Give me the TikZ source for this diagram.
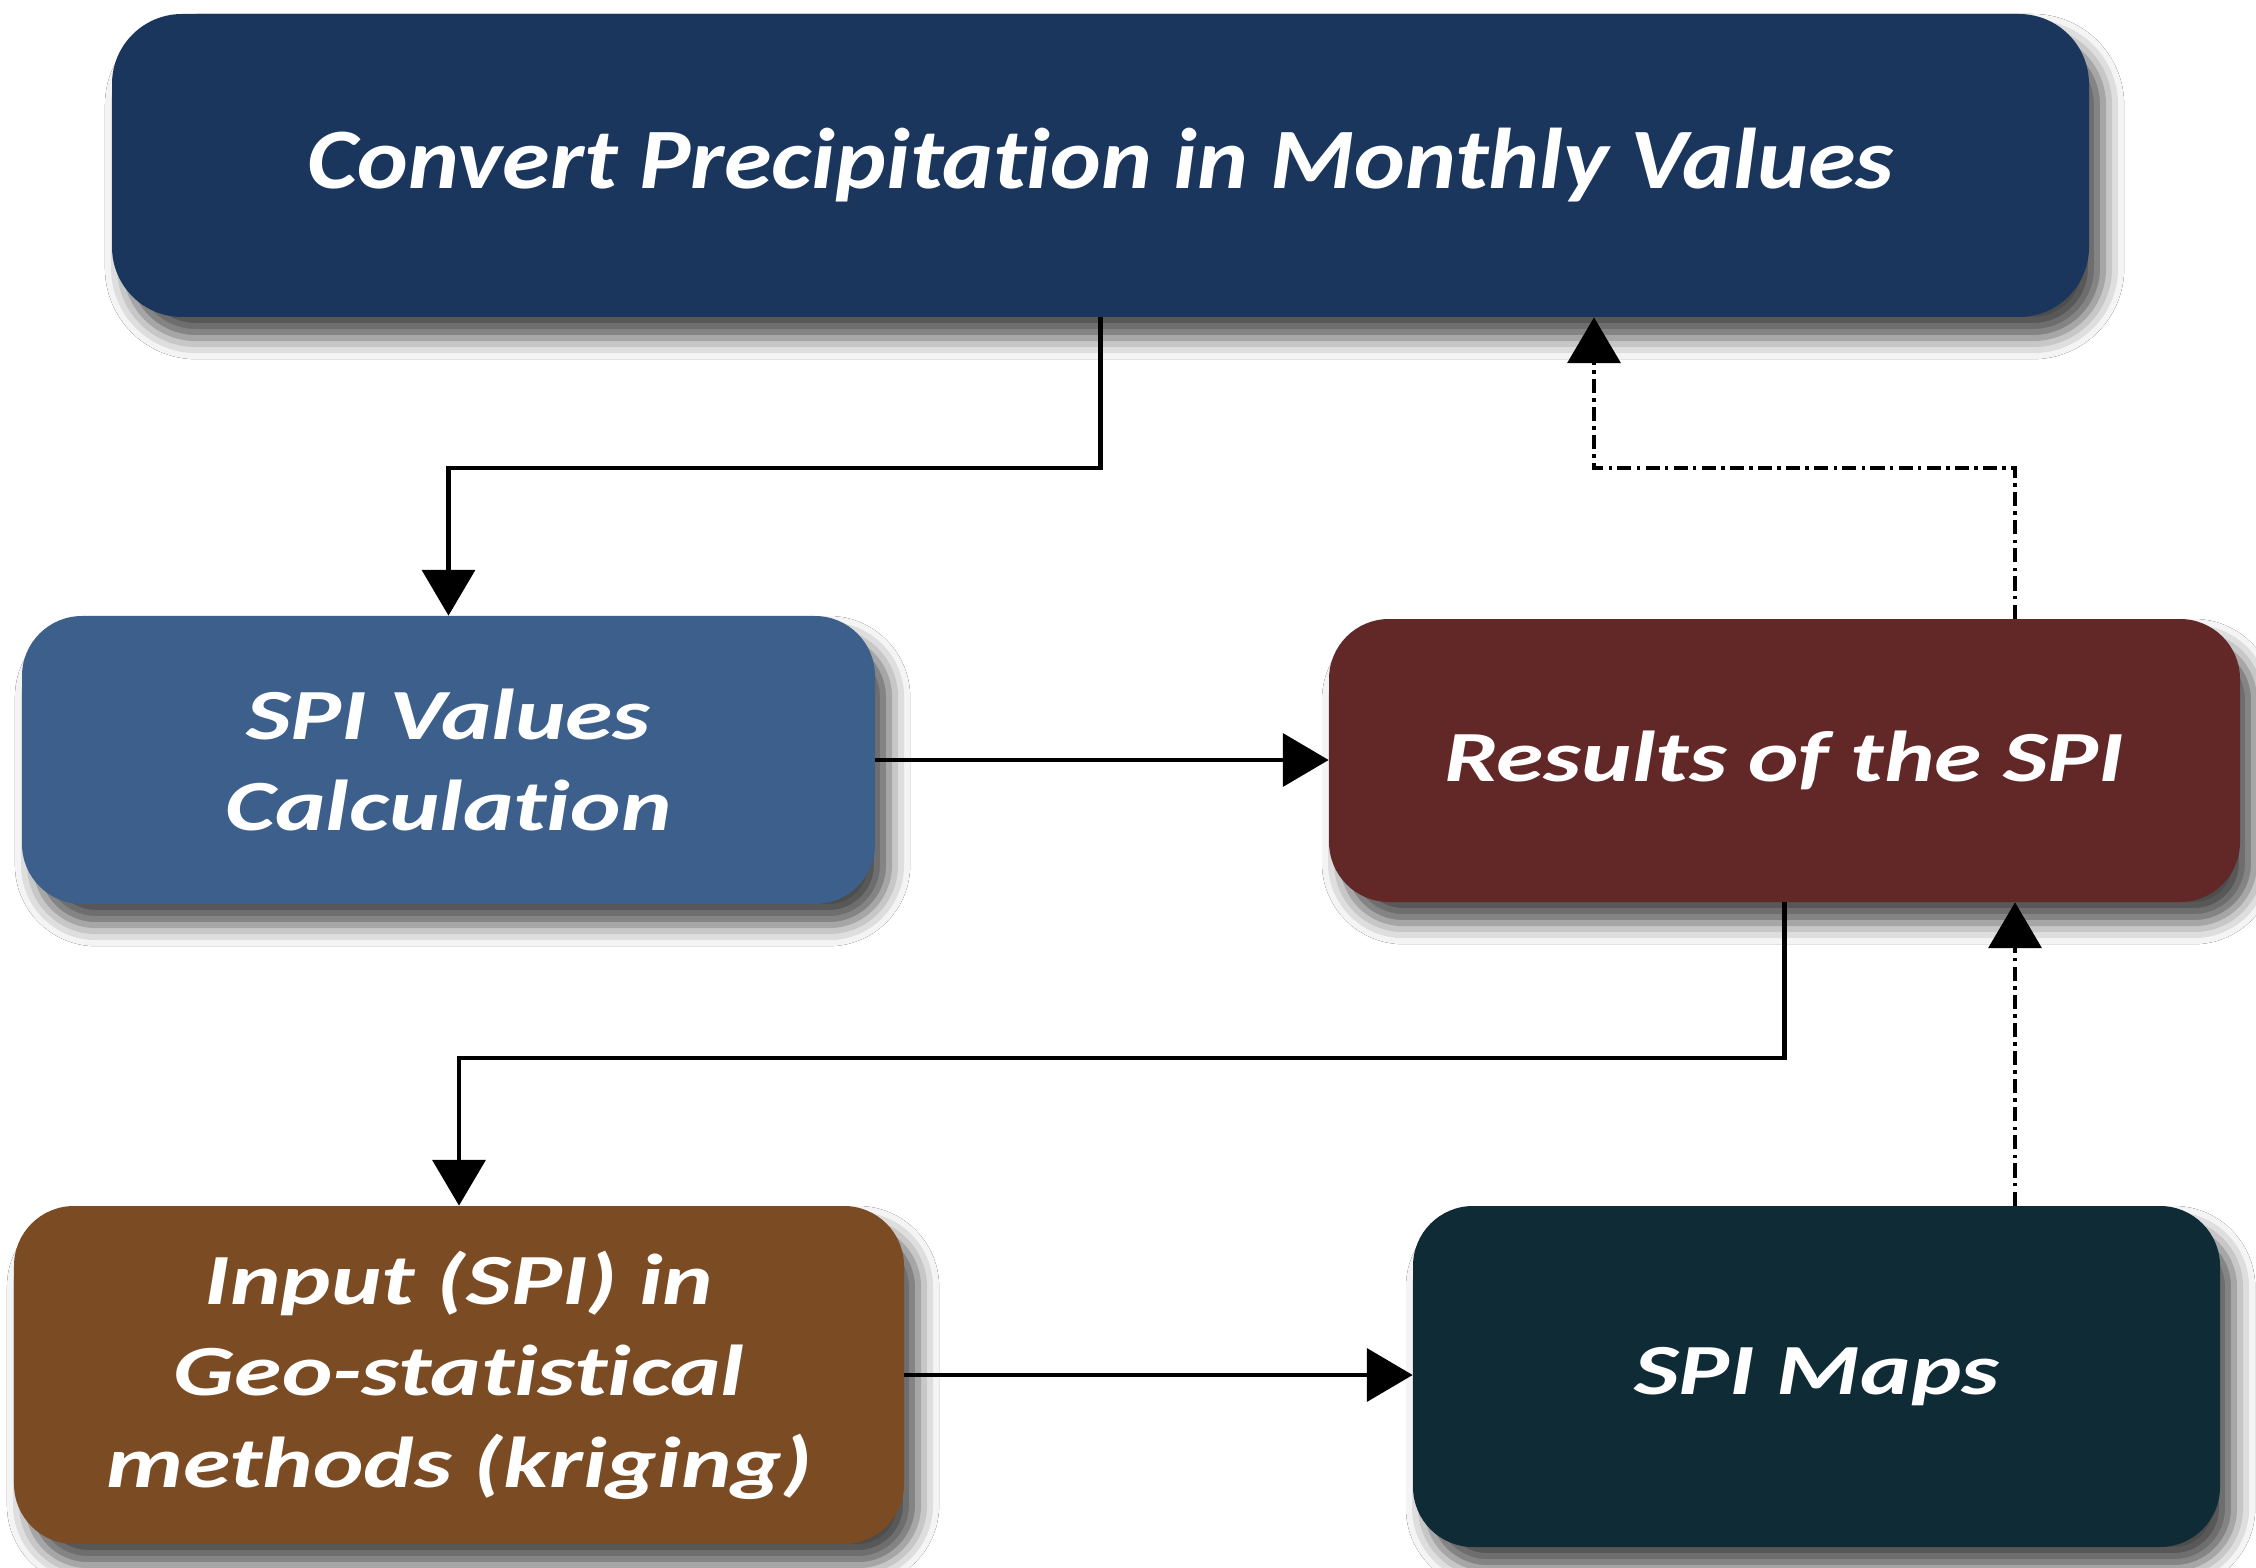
\documentclass[tikz,border=0pt]{standalone}
\usepackage{fontspec}
\setmainfont{Carlito}[Ligatures=NoCommon]
\newfontfamily\widetop{Carlito}[FakeStretch=1.12, Ligatures=NoCommon]
\newfontfamily\widebox{Carlito}[FakeStretch=1.33, Ligatures=NoCommon]
\usetikzlibrary{arrows.meta,shadows.blur}
\definecolor{ctop}{RGB}{27,54,93}
\definecolor{cspi}{RGB}{61,95,140}
\definecolor{cres}{RGB}{98,40,40}
\definecolor{cinp}{RGB}{123,75,35}
\definecolor{cmap}{RGB}{14,43,54}
\tikzset{
  box/.style={rounded corners=1.2cm, draw=none, text=white, align=center,
    font=\widebox\fontsize{41}{52}\selectfont\bfseries\itshape,
    blur shadow={shadow xshift=8pt, shadow yshift=-12pt, shadow blur radius=12pt, shadow opacity=70}},
  arr/.style={line width=2.4pt, -{Triangle[length=26pt,width=30pt]}},
  dd/.style={arr, dash pattern=on 8pt off 3pt on 2pt off 3pt}
}
\begin{document}
\begin{tikzpicture}
\useasboundingbox[fill=white] (0,0) rectangle (45.12,-31.36);
\node[box, fill=ctop, minimum width=39.54cm, minimum height=6.06cm, rounded corners=1.4cm,
  font=\widetop\fontsize{49}{58}\selectfont\bfseries\itshape] (top) at (22.01,-3.31) {Convert Precipitation in Monthly Values};
\node[box, fill=cspi, minimum width=17.06cm, minimum height=5.76cm] (spi) at (8.97,-15.2) {SPI Values\\Calculation};
\node[box, fill=cres, minimum width=18.22cm, minimum height=5.66cm] (res) at (35.69,-15.21) {Results of the SPI};
\node[box, fill=cinp, minimum width=17.8cm, minimum height=6.76cm] (inp) at (9.18,-27.5) {Input (SPI) in\\Geo-statistical\\methods (kriging)};
\node[box, fill=cmap, minimum width=16.14cm, minimum height=6.82cm] (map) at (36.33,-27.53) {SPI Maps};
\coordinate (ya) at (0,-9.36);
\coordinate (yb) at (0,-21.16);
\coordinate (xr) at (40.3,0);
\coordinate (xu) at (31.88,0);
\draw[arr] (top.south) -- (top.south |- ya) -- (spi.north |- ya) -- (spi.north);
\draw[arr] (spi.east) -- (res.west |- spi.east);
\draw[arr] (res.south) -- (res.south |- yb) -- (inp.north |- yb) -- (inp.north);
\draw[arr] (inp.east) -- (map.west |- inp.east);
\draw[dd] (map.north -| xr) -- (res.south -| xr);
\draw[dd] (res.north -| xr) -- (xr |- ya) -- (xu |- ya) -- (top.south -| xu);
\end{tikzpicture}
\end{document}
